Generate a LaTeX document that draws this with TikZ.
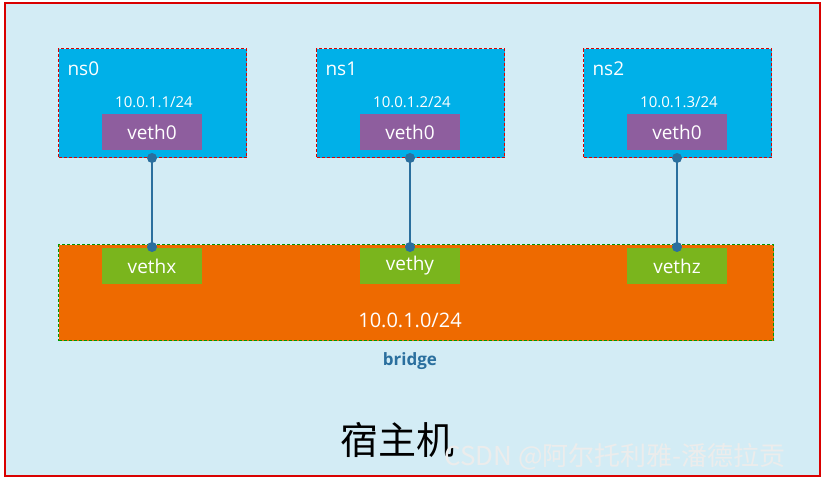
\documentclass[tikz,border=0pt]{standalone}
\usepackage{fontspec}
\setmainfont{Open Sans}
\newfontfamily\cjk{Noto Sans CJK SC}
\definecolor{bgblue}{HTML}{D3ECF5}
\definecolor{nsblue}{HTML}{00B0E8}
\definecolor{vpurple}{HTML}{8E5E9E}
\definecolor{vgreen}{HTML}{7AB51D}
\definecolor{borange}{HTML}{EE6A00}
\definecolor{lineblue}{HTML}{2A6F9E}
\begin{document}
\begin{tikzpicture}[x=1pt,y=-1pt,
  nsbox/.style={draw=red!85!black,dash pattern=on 3pt off 2pt,fill=nsblue,line width=1.3pt,minimum width=188pt,minimum height=109pt,anchor=north west,inner sep=0},
  vbox/.style={fill=vpurple,text=white,minimum width=100pt,minimum height=36pt,font=\fontsize{19}{21}\selectfont,inner sep=0},
  gbox/.style={fill=vgreen,text=white,minimum width=100pt,minimum height=36pt,font=\fontsize{19}{21}\selectfont,inner sep=0},
  lbl/.style={text=white,font=\fontsize{19}{21}\selectfont,anchor=west},
  ip/.style={text=white,font=\fontsize{15}{17}\selectfont},
  dot/.style={circle,fill=lineblue,inner sep=0,minimum size=10pt},
  wire/.style={lineblue,line width=1.8pt}]
\useasboundingbox (0,0) rectangle (825,481);
\draw[red!85!black,fill=bgblue,line width=1.2pt] (5,3) rectangle (820,476);
\node[draw=green!60!black,dash pattern=on 3pt off 2pt,fill=borange,line width=1.3pt,minimum width=715pt,minimum height=96pt,anchor=north west,inner sep=0] (br) at (58,244) {};
\foreach \n/\x/\ipx/\g in {0/58/1/x,1/316/2/y,2/583/3/z}{
  \node[nsbox] (ns\n) at (\x,48) {};
  \node[lbl] at (\x+6,69) {ns\n};
  \node[ip] at (\x+96,102) {10.0.1.\ipx/24};
  \node[vbox] (v\n) at (\x+94,132) {veth0};
  \node[gbox] (g\n) at (\x+94,266) {veth\g};
  \coordinate (a\n) at (\x+94,158);
  \coordinate (b\n) at (\x+94,247);
  \draw[wire] (a\n) -- (b\n);
  \node[dot] at (a\n) {};
  \node[dot] at (b\n) {};
}
\node[text=white,font=\fontsize{20}{23}\selectfont] (net) at (410,320) {10.0.1.0/24};
\node[text=lineblue,font=\bfseries\fontsize{17}{20}\selectfont] (bl) at (410,361) {bridge};
\node[font=\cjk\fontsize{38}{42}\selectfont] (host) at (397,440) {宿主机};
\node[text=white!85!gray,font=\cjk\fontsize{26}{30}\selectfont] (wm) at (615,457) {CSDN @阿尔托利雅-潘德拉贡};
\end{tikzpicture}
\end{document}
